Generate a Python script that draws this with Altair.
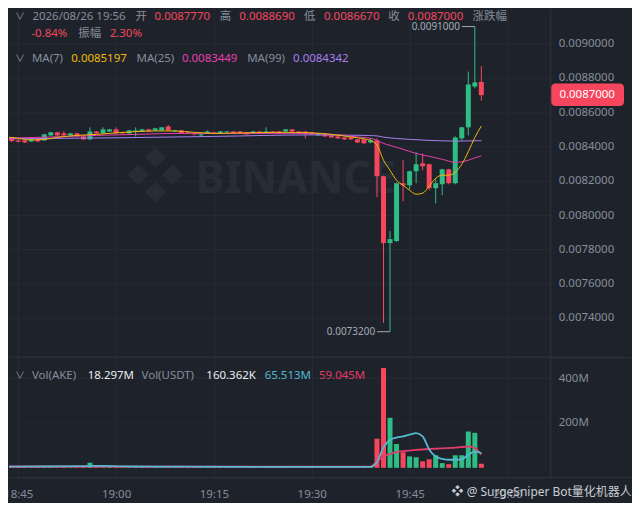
import altair as alt
import pandas as pd

FONT = "Noto Sans, Noto Sans CJK SC, DejaVu Sans, sans-serif"
BG = "#1e232b"
GRID = "#262b34"
LINE = "#30363f"
TXT = "#848e9c"
GREEN = "#2ebd85"
RED = "#f6465d"
MA7C = "#f0b90b"
MA25C = "#e63fae"
MA99C = "#a97ef0"
VMA5C = "#57b7d4"
VMA10C = "#e33b69"
WHITE = "#eaecef"
ANN = "#a3aab5"
DAY = "2026-08-26T"
FS = 11.5

# ---------------- data (1-minute candles 18:44 .. 19:56) ----------------
minutes = [f"18:{m:02d}" for m in range(44, 60)] + [f"19:{m:02d}" for m in range(0, 57)]

open_ = [
    0.008448, 0.008436, 0.008436, 0.008430, 0.008442, 0.008436, 0.008465, 0.008483, 0.008477, 0.008465,
    0.008477, 0.008459, 0.008442, 0.008488, 0.008477, 0.008488, 0.008500, 0.008483, 0.008477, 0.008488,
    0.008488, 0.008500, 0.008494, 0.008494, 0.008517, 0.008488, 0.008494, 0.008483, 0.008477, 0.008465,
    0.008477, 0.008483, 0.008477, 0.008483, 0.008488, 0.008488, 0.008483, 0.008477, 0.008488, 0.008477,
    0.008488, 0.008488, 0.008488, 0.008500, 0.008488, 0.008488, 0.008483, 0.008465, 0.008471, 0.008465,
    0.008459, 0.008453, 0.008453, 0.008442, 0.008442, 0.008424, 0.008436, 0.008227, 0.007837, 0.007849,
    0.008186, 0.008174, 0.008256, 0.008302, 0.008297, 0.008157, 0.008180, 0.008267, 0.008186, 0.008448,
    0.008512, 0.008750, 0.008777,
]
high = [
    0.008453, 0.008442, 0.008438, 0.008446, 0.008446, 0.008474, 0.008486, 0.008486, 0.008490, 0.008480,
    0.008480, 0.008462, 0.008512, 0.008491, 0.008512, 0.008503, 0.008512, 0.008486, 0.008497, 0.008512,
    0.008503, 0.008503, 0.008509, 0.008515, 0.008526, 0.008497, 0.008497, 0.008486, 0.008480, 0.008474,
    0.008494, 0.008486, 0.008491, 0.008491, 0.008491, 0.008491, 0.008486, 0.008491, 0.008491, 0.008512,
    0.008491, 0.008491, 0.008503, 0.008503, 0.008491, 0.008491, 0.008486, 0.008480, 0.008474, 0.008468,
    0.008462, 0.008456, 0.008456, 0.008444, 0.008444, 0.008448, 0.008448, 0.008230, 0.007907, 0.008190,
    0.008320, 0.008260, 0.008366, 0.008360, 0.008300, 0.008215, 0.008270, 0.008270, 0.008459, 0.008515,
    0.008837, 0.009100, 0.008869,
]
low = [
    0.008426, 0.008424, 0.008420, 0.008426, 0.008426, 0.008432, 0.008462, 0.008462, 0.008462, 0.008462,
    0.008456, 0.008438, 0.008438, 0.008474, 0.008474, 0.008485, 0.008474, 0.008474, 0.008474, 0.008459,
    0.008485, 0.008485, 0.008491, 0.008491, 0.008491, 0.008485, 0.008474, 0.008474, 0.008465, 0.008462,
    0.008474, 0.008474, 0.008474, 0.008480, 0.008474, 0.008474, 0.008468, 0.008474, 0.008474, 0.008474,
    0.008480, 0.008474, 0.008485, 0.008485, 0.008474, 0.008448, 0.008468, 0.008462, 0.008456, 0.008450,
    0.008444, 0.008438, 0.008438, 0.008420, 0.008415, 0.008419, 0.008105, 0.007372, 0.007320, 0.007843,
    0.008081, 0.008151, 0.008186, 0.008262, 0.008145, 0.008070, 0.008116, 0.008180, 0.008180, 0.008436,
    0.008465, 0.008740, 0.008667,
]
close = [
    0.008432, 0.008428, 0.008424, 0.008442, 0.008430, 0.008471, 0.008483, 0.008465, 0.008465, 0.008477,
    0.008459, 0.008442, 0.008488, 0.008477, 0.008500, 0.008500, 0.008477, 0.008477, 0.008494, 0.008494,
    0.008500, 0.008488, 0.008506, 0.008512, 0.008494, 0.008494, 0.008477, 0.008477, 0.008471, 0.008471,
    0.008488, 0.008477, 0.008488, 0.008488, 0.008477, 0.008477, 0.008471, 0.008488, 0.008477, 0.008488,
    0.008483, 0.008477, 0.008500, 0.008488, 0.008477, 0.008477, 0.008471, 0.008477, 0.008459, 0.008453,
    0.008448, 0.008442, 0.008442, 0.008424, 0.008419, 0.008436, 0.008227, 0.007837, 0.007860, 0.008186,
    0.008174, 0.008256, 0.008297, 0.008285, 0.008157, 0.008186, 0.008267, 0.008186, 0.008453, 0.008512,
    0.008762, 0.008774, 0.008700,
]
volume_m = [
    5, 4, 6, 3, 4, 8, 6, 5, 4, 3,
    5, 6, 23, 4, 7, 5, 6, 3, 4, 9,
    5, 4, 5, 6, 7, 4, 5, 3, 4, 3,
    6, 4, 5, 3, 4, 3, 4, 5, 3, 6,
    3, 4, 5, 4, 3, 6, 4, 3, 4, 5,
    4, 6, 4, 7, 6, 5, 130, 445, 223, 106,
    69, 51, 47, 29, 38, 56, 21, 16, 56, 56,
    162, 156, 18.297,
]
vol_usdt_last_k = 160.362

# moving averages
ma7_t = ["18:43", "18:44", "18:47", "18:49", "18:51", "18:54", "18:57", "19:00", "19:03", "19:06", "19:09",
         "19:12", "19:15", "19:20", "19:25", "19:30", "19:33", "19:36", "19:38", "19:39", "19:40", "19:41",
         "19:42", "19:43", "19:44", "19:45", "19:46", "19:47", "19:48", "19:49", "19:50", "19:51", "19:52",
         "19:53", "19:54", "19:55", "19:56"]
ma7_v = [0.008455, 0.008453, 0.008439, 0.008442, 0.008453, 0.008465, 0.008471, 0.008480, 0.008487, 0.008491,
         0.008491, 0.008483, 0.008477, 0.008480, 0.008483, 0.008480, 0.008471, 0.008456, 0.008445, 0.008436,
         0.008409, 0.008320, 0.008262, 0.008203, 0.008174, 0.008145, 0.008122, 0.008128, 0.008169, 0.008215,
         0.008233, 0.008233, 0.008250, 0.008297, 0.008370, 0.008453, 0.0085197]
ma25_t = ["18:43", "18:50", "18:57", "19:03", "19:10", "19:20", "19:28", "19:33", "19:37", "19:39", "19:40",
          "19:41", "19:42", "19:44", "19:46", "19:48", "19:50", "19:52", "19:53", "19:54", "19:55", "19:56"]
ma25_v = [0.008448, 0.008456, 0.008465, 0.008471, 0.008477, 0.008477, 0.008477, 0.008471, 0.008456, 0.008448,
          0.008436, 0.008418, 0.008407, 0.008384, 0.008360, 0.008343, 0.008326, 0.008308, 0.008311, 0.008320,
          0.008334, 0.0083449]
ma99_t = ["18:43", "19:00", "19:15", "19:30", "19:38", "19:40", "19:41", "19:43", "19:45", "19:48", "19:52",
          "19:56"]
ma99_v = [0.008445, 0.008451, 0.008459, 0.008468, 0.008465, 0.008462, 0.008455, 0.008447, 0.008442, 0.008436,
          0.008432, 0.0084342]
vma5_t = ["18:43", "18:56", "18:58", "19:01", "19:10", "19:38", "19:39", "19:40", "19:41", "19:42", "19:43",
          "19:44", "19:45", "19:46", "19:47", "19:48", "19:49", "19:50", "19:51", "19:52", "19:53", "19:54",
          "19:55", "19:56"]
vma5_v = [5, 8, 9, 6, 5, 4, 4, 26, 91, 125, 135, 140, 148, 155, 140, 82, 50, 40, 36, 36, 38, 58, 72, 65.513]
vma10_t = ["18:43", "19:38", "19:39", "19:40", "19:41", "19:42", "19:43", "19:44", "19:46", "19:48", "19:50",
           "19:52", "19:54", "19:55", "19:56"]
vma10_v = [6, 5, 5, 30, 50, 62, 70, 74, 80, 84, 87, 90, 95, 88, 59.045]

price_ticks = [0.0074, 0.0076, 0.0078, 0.0080, 0.0082, 0.0084, 0.0086, 0.0088, 0.0090]
vol_ticks = [200e6, 400e6]
time_ticks = [(18, 45), (19, 0), (19, 15), (19, 30), (19, 45), (20, 0)]

# ---------------- frames ----------------
df = pd.DataFrame({
    "t": [DAY + m + ":00" for m in minutes],
    "o": open_, "h": high, "l": low, "c": close,
    "v": [x * 1e6 for x in volume_m],
})


def frame(ts, vs, mult=1.0):
    return pd.DataFrame({"t": [DAY + s + ":00" for s in ts], "v": [x * mult for x in vs]})


def dt(h, m, s=0):
    return alt.DateTime(year=2026, month=8, date=26, hours=h, minutes=m, seconds=s)


W, H_MAIN, H_VOL = 543, 349, 120

x_scale = alt.Scale(domain=[dt(18, 44, 21), dt(20, 5, 48)], nice=False)
y_scale = alt.Scale(domain=[0.0071744, 0.0092035], zero=False, nice=False)
v_scale = alt.Scale(domain=[-42.2e6, 491.1e6], zero=False, nice=False)
xt = [dt(h, m) for h, m in time_ticks]

x_axis_main = alt.Axis(values=xt, labels=False, ticks=False, grid=True, gridColor=GRID,
                       domain=True, domainColor=LINE, title=None)
x_axis_vol = alt.Axis(values=xt, format="%H:%M", ticks=False, labelPadding=11, grid=True,
                      gridColor=GRID, domain=True, domainColor=LINE, labelColor=TXT,
                      labelFontSize=FS, labelFont=FONT, title=None)
y_axis = alt.Axis(orient="right", values=price_ticks, format=".7f", ticks=False, labelPadding=8,
                  grid=True, gridColor=GRID, domain=True, domainColor=LINE, labelColor=TXT,
                  labelFontSize=FS, labelFont=FONT, title=None)
v_axis = alt.Axis(orient="right", values=vol_ticks, labelExpr="format(datum.value/1e6,'d') + 'M'",
                  ticks=False, labelPadding=8, grid=True, gridColor=GRID, domain=True,
                  domainColor=LINE, labelColor=TXT, labelFontSize=FS, labelFont=FONT, title=None)

XM = alt.X("t:T", scale=x_scale, axis=x_axis_main, title=None)
XV = alt.X("t:T", scale=x_scale, axis=x_axis_vol, title=None)


def YP(field):
    return alt.Y(field, scale=y_scale, axis=y_axis, title=None)


def YV(field):
    return alt.Y(field, scale=v_scale, axis=v_axis, title=None)


col = alt.Color("dir:N", scale=alt.Scale(domain=["up", "down"], range=[GREEN, RED]), legend=None)
one = pd.DataFrame({"k": [0]})


def label(text, x, y, color, size=FS, align="left", weight="normal"):
    return alt.Chart(one).mark_text(text=text, align=align, baseline="middle", color=color,
                                    fontSize=size, font=FONT, fontWeight=weight).encode(
        x=alt.value(x), y=alt.value(y))


# ---------------- main panel ----------------
candles = alt.Chart(df).transform_calculate(dir="datum.c >= datum.o ? 'up' : 'down'")
wicks = candles.mark_rule(strokeWidth=1).encode(x=XM, y=YP("l:Q"), y2="h:Q", color=col)
bodies = candles.mark_bar(size=5).encode(x=XM, y=YP("o:Q"), y2="c:Q", color=col)


def ma_line(ts, vs, color):
    return alt.Chart(frame(ts, vs)).mark_line(color=color, strokeWidth=1, clip=True,
                                              interpolate="monotone").encode(x=XM, y=YP("v:Q"))


ext = pd.DataFrame({"t": [df.t[df.h.idxmax()], df.t[df.l.idxmin()]], "p": [max(high), min(low)]})
ext_rule = alt.Chart(ext).mark_rule(color=ANN, strokeWidth=1, x2Offset=-13).encode(
    x=XM, x2="t:T", y=YP("p:Q"))
ext_text = alt.Chart(ext).mark_text(color=ANN, align="right", baseline="middle", dx=-15,
                                    fontSize=10, font=FONT).encode(
    x=XM, y=YP("p:Q"), text=alt.Text("p:Q", format=".7f"))

tag_df = pd.DataFrame({"p": [close[-1]]})
tag_rect = alt.Chart(tag_df).transform_calculate(
    top="datum.p + 0.000068", bot="datum.p - 0.000064").mark_rect(color=RED, cornerRadius=4).encode(
    x=alt.value(544), x2=alt.value(617), y=YP("top:Q"), y2="bot:Q")
tag_text = alt.Chart(tag_df).mark_text(color="white", align="center", baseline="middle",
                                       fontSize=FS, font=FONT).encode(
    x=alt.value(580), y=YP("p:Q"), text=alt.Text("p:Q", format=".7f"))

prev_c = close[-2]
chg = (close[-1] - prev_c) / prev_c * 100
amp = (high[-1] - low[-1]) / prev_c * 100

header = [
    ("2026/08/26 19:56", 23.5, 8.5, TXT),
    ("开", 127, 8.5, TXT), (f"{open_[-1]:.7f}", 146, 8.5, RED),
    ("高", 211.5, 8.5, TXT), (f"{high[-1]:.7f}", 231, 8.5, RED),
    ("低", 296, 8.5, TXT), (f"{low[-1]:.7f}", 316, 8.5, RED),
    ("收", 380.5, 8.5, TXT), (f"{close[-1]:.7f}", 400, 8.5, RED),
    ("涨跌幅", 465, 8.5, TXT),
    (f"{chg:.2f}%", 22.5, 25, RED), ("振幅", 69.5, 25, TXT), (f"{amp:.2f}%", 101, 25, RED),
    ("MA(7)", 23, 50, TXT), (f"{ma7_v[-1]:.7f}", 62.5, 50, MA7C),
    ("MA(25)", 128, 50, TXT), (f"{ma25_v[-1]:.7f}", 173.5, 50, MA25C),
    ("MA(99)", 239, 50, TXT), (f"{ma99_v[-1]:.7f}", 285, 50, MA99C),
]
chevrons = [label("∨", 11, 8.5, TXT, size=10, align="center"),
            label("∨", 11, 50, TXT, size=10, align="center")]

watermark = [
    label("❖", 147, 172, "#272d36", size=58, align="center"),
    label("BINANCE", 187, 172, "#272d36", size=44, weight="bold"),
]

main = alt.layer(
    *watermark,
    wicks, bodies,
    ma_line(ma99_t, ma99_v, MA99C), ma_line(ma25_t, ma25_v, MA25C), ma_line(ma7_t, ma7_v, MA7C),
    ext_rule, ext_text,
    *[label(t, x, y, c) for t, x, y, c in header],
    *chevrons,
    tag_rect, tag_text,
).properties(width=W, height=H_MAIN)

# ---------------- volume panel ----------------
vbars = candles.mark_bar(size=5).encode(x=XV, y=YV("v:Q"), color=col)


def vline(ts, vs, color):
    return alt.Chart(frame(ts, vs, 1e6)).mark_line(color=color, strokeWidth=1.8, clip=True,
                                                   interpolate="monotone").encode(x=XV, y=YV("v:Q"))


vheader = [
    ("Vol(AKE)", 23, TXT), (f"{volume_m[-1]:.3f}M", 79, WHITE),
    ("Vol(USDT)", 133, TXT), (f"{vol_usdt_last_k:.3f}K", 198, WHITE),
    (f"{vma5_v[-1]:.3f}M", 256.5, VMA5C), (f"{vma10_v[-1]:.3f}M", 311, VMA10C),
]

sep = [
    alt.Chart(one).mark_rule(color=LINE, strokeWidth=1).encode(
        x=alt.value(W), x2=alt.value(624), y=alt.value(0)),
    alt.Chart(one).mark_rule(color=LINE, strokeWidth=1).encode(
        x=alt.value(W), x2=alt.value(624), y=alt.value(H_VOL)),
]

vol = alt.layer(
    vbars,
    vline(vma10_t, vma10_v, VMA10C), vline(vma5_t, vma5_v, VMA5C),
    *[label(t, x, 18, c) for t, x, c in vheader],
    label("∨", 11, 18, TXT, size=10, align="center"),
    *sep,
    label("❖ @ SurgeSniper Bot量化机器人", 444, 134.5, "#c9cdd3", size=12),
).properties(width=W, height=H_VOL)

chart = alt.vconcat(main, vol, spacing=0).properties(
    padding={"left": -5, "top": 0, "right": 0, "bottom": 2}
).configure(background=BG, font=FONT).configure_view(stroke=None)

chart.save("out.html", embed_options={"renderer": "svg", "actions": False})
